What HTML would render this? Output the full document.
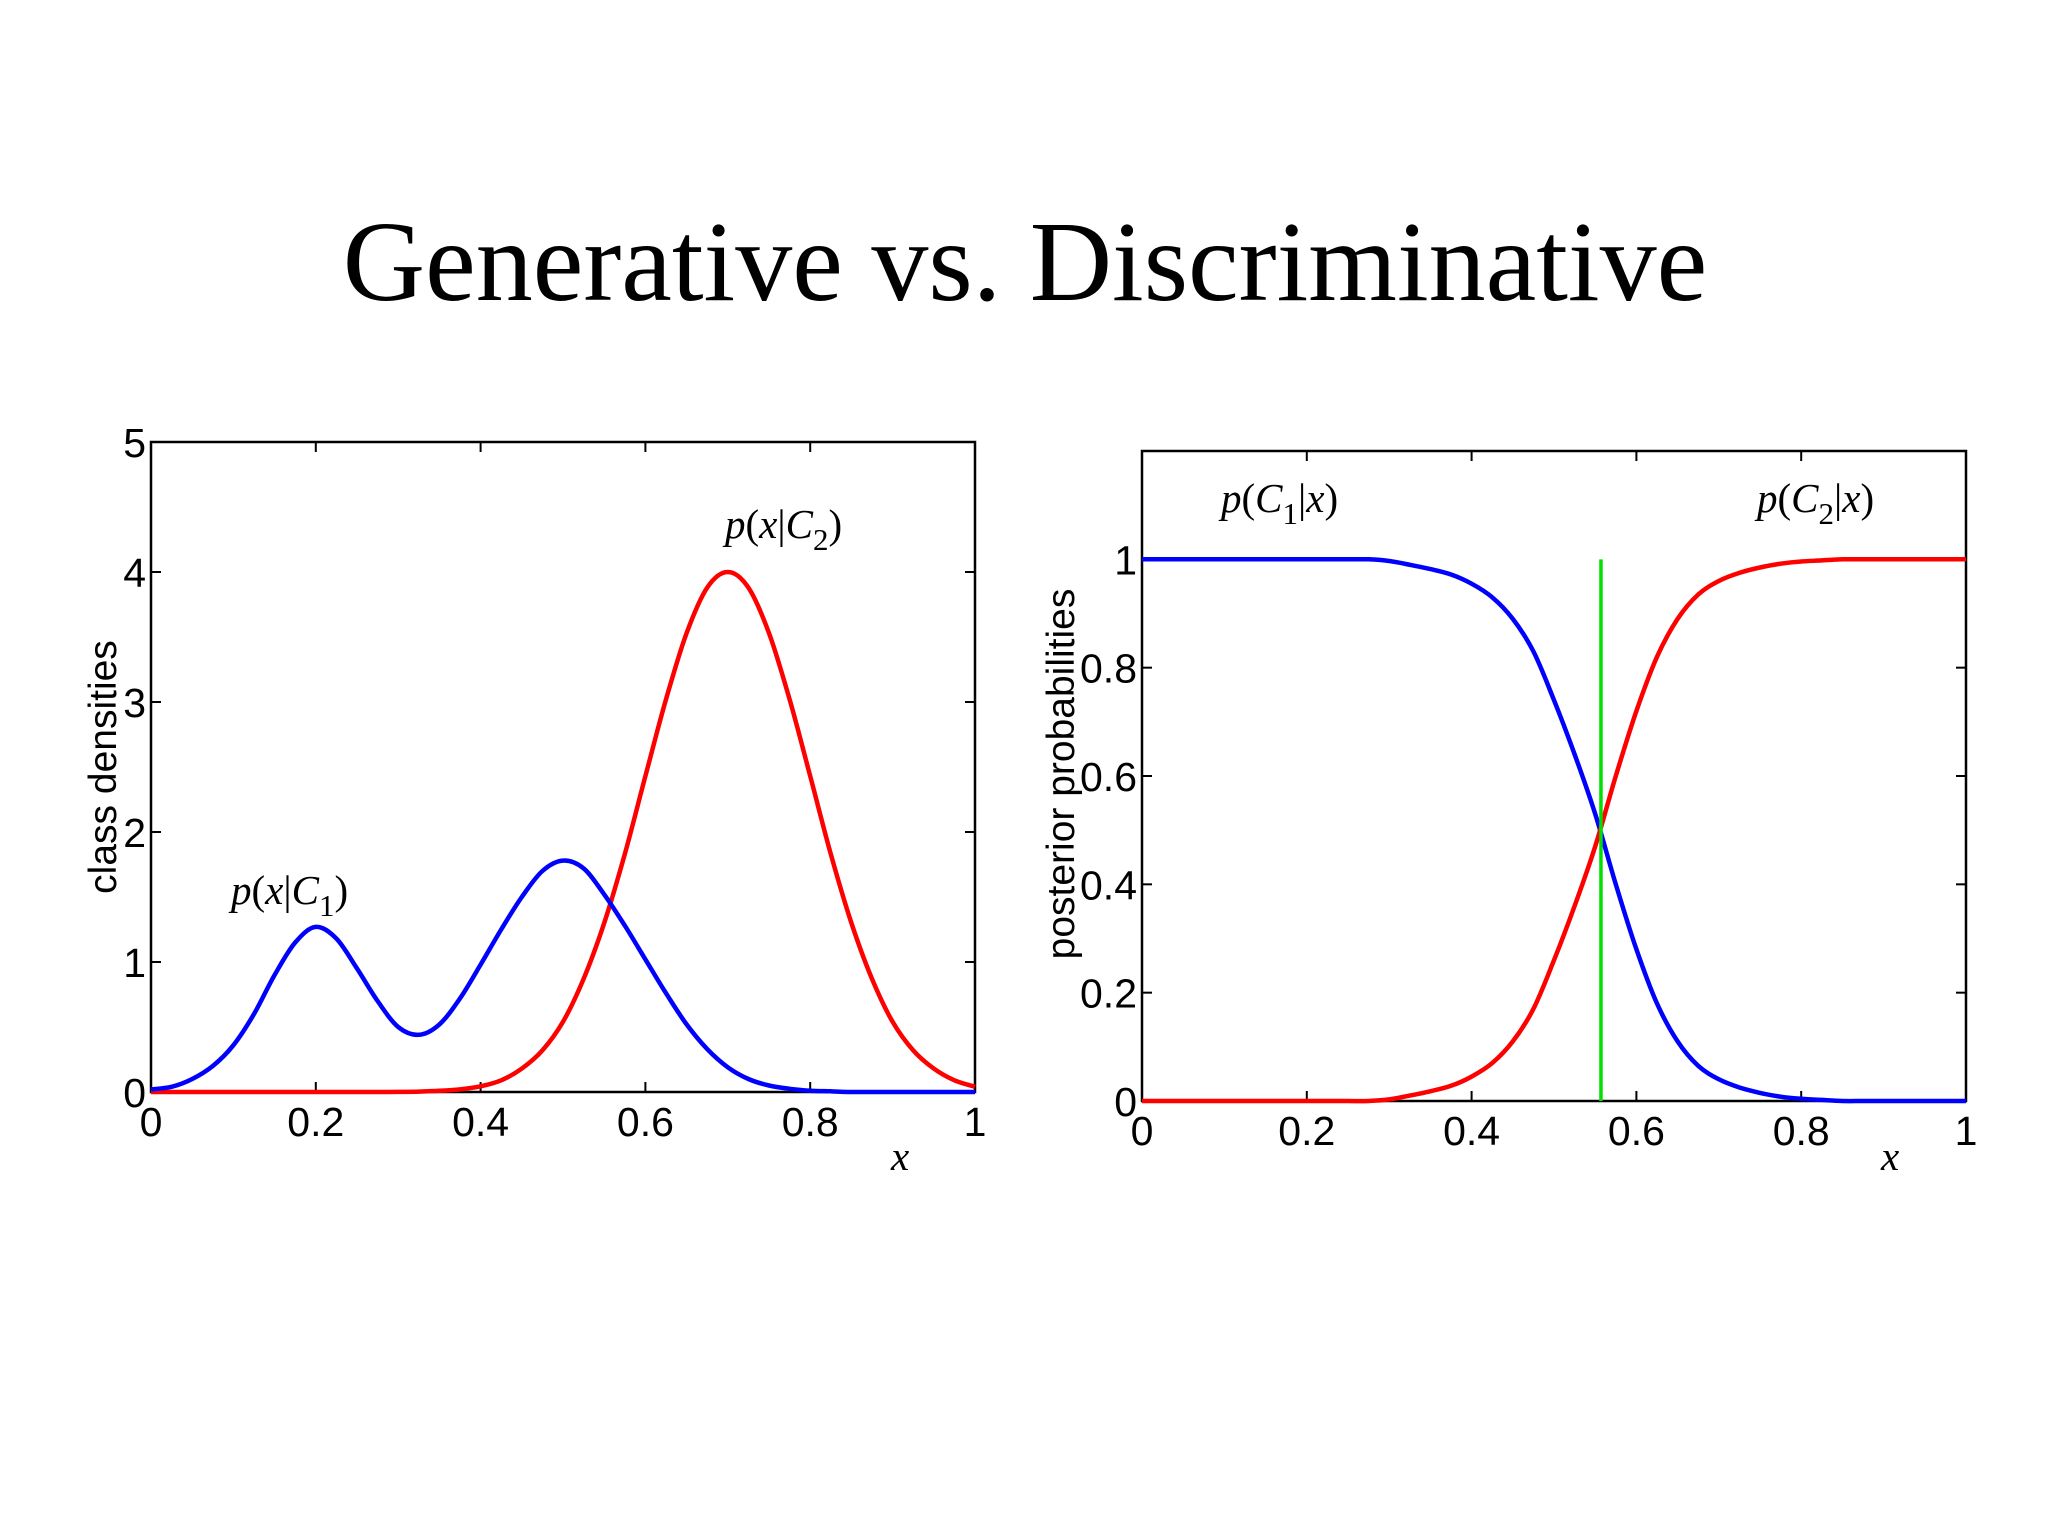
<!DOCTYPE html>
<html><head><meta charset="utf-8"><style>
html,body{margin:0;padding:0;background:#fff;}
svg{display:block;}
.tk{font-family:"Liberation Sans",sans-serif;font-size:41px;fill:#000;}
.lab{font-family:"Liberation Sans",sans-serif;font-size:39px;fill:#000;}
.mi{font-family:"Liberation Serif",serif;font-size:41px;fill:#000;}
</style></head><body>
<svg id="fig" width="2048" height="1539" viewBox="0 0 2048 1539" xmlns="http://www.w3.org/2000/svg">
<text x="1025" y="300" text-anchor="middle" font-family="Liberation Serif, serif" font-size="114">Generative vs. Discriminative</text>
<g id="left"></g>
<g id="right"></g>
<text class="lab" transform="translate(116,767) rotate(-90)" text-anchor="middle">class densities</text>
<text class="lab" transform="translate(1074,774) rotate(-90)" text-anchor="middle">posterior probabilities</text>
<text class="mi" x="891" y="1170" font-style="italic">x</text>
<text class="mi" x="1881" y="1170" font-style="italic">x</text>
<text class="mi" x="725" y="538"><tspan font-style="italic">p</tspan>(<tspan font-style="italic">x</tspan>|<tspan font-style="italic">C</tspan><tspan dy="12" font-size="31">2</tspan><tspan dy="-12">)</tspan></text>
<text class="mi" x="231" y="904"><tspan font-style="italic">p</tspan>(<tspan font-style="italic">x</tspan>|<tspan font-style="italic">C</tspan><tspan dy="12" font-size="31">1</tspan><tspan dy="-12">)</tspan></text>
<text class="mi" x="1221" y="512"><tspan font-style="italic">p</tspan>(<tspan font-style="italic">C</tspan><tspan dy="12" font-size="31">1</tspan><tspan dy="-12">|</tspan><tspan font-style="italic">x</tspan>)</text>
<text class="mi" x="1757" y="512"><tspan font-style="italic">p</tspan>(<tspan font-style="italic">C</tspan><tspan dy="12" font-size="31">2</tspan><tspan dy="-12">|</tspan><tspan font-style="italic">x</tspan>)</text>
</svg>
<script>
const xs = [0,0.025,0.05,0.075,0.1,0.125,0.15,0.175,0.2,0.225,0.25,0.275,0.3,0.325,0.35,0.375,0.4,0.425,0.45,0.475,0.5,0.525,0.55,0.575,0.6,0.625,0.65,0.675,0.7,0.725,0.75,0.775,0.8,0.825,0.85,0.875,0.9,0.925,0.95,0.975,1];
const densityC1 = [0.02,0.04,0.1,0.2,0.36,0.6,0.9,1.15,1.27,1.18,0.95,0.7,0.5,0.44,0.52,0.72,0.98,1.25,1.5,1.7,1.78,1.72,1.52,1.28,1.02,0.76,0.52,0.33,0.19,0.1,0.05,0.025,0.01,0.005,0,0,0,0,0,0,0];
const densityC2 = [0,0,0,0,0,0,0,0,0,0,0,0,0.001,0.003,0.009,0.02,0.044,0.09,0.18,0.32,0.54,0.87,1.3,1.83,2.43,3.02,3.53,3.88,4,3.88,3.53,3.02,2.43,1.83,1.3,0.87,0.54,0.32,0.18,0.09,0.04];
const postC2 = [0,0,0,0,0,0,0,0,0,0,0,0,0.003,0.01,0.018,0.028,0.045,0.07,0.11,0.17,0.26,0.36,0.47,0.6,0.72,0.82,0.89,0.935,0.96,0.975,0.985,0.992,0.996,0.998,1,1,1,1,1,1,1];
const postC1 = [1,1,1,1,1,1,1,1,1,1,1,1,0.997,0.99,0.982,0.972,0.955,0.93,0.89,0.83,0.74,0.64,0.53,0.4,0.28,0.18,0.11,0.065,0.04,0.025,0.015,0.008,0.004,0.002,0,0,0,0,0,0,0];
const boundaryX = [0.557];
const leftXTicks = [0,0.2,0.4,0.6,0.8,1];
const leftXLabels = ["0","0.2","0.4","0.6","0.8","1"];
const leftYTicks = [0,1,2,3,4,5];
const leftYLabels = ["0","1","2","3","4","5"];
const rightYTicks = [0,0.2,0.4,0.6,0.8,1];
const rightYLabels = ["0","0.2","0.4","0.6","0.8","1"];

const NS = "http://www.w3.org/2000/svg";
function mk(tag, attrs, parent){const e=document.createElementNS(NS,tag);for(const k in attrs)e.setAttribute(k,attrs[k]);parent.appendChild(e);return e;}
function smoothPath(pts){
  let d="M"+pts[0][0].toFixed(1)+","+pts[0][1].toFixed(1);
  for(let i=0;i<pts.length-1;i++){
    const p0=pts[Math.max(0,i-1)],p1=pts[i],p2=pts[i+1],p3=pts[Math.min(pts.length-1,i+2)];
    const c1=[p1[0]+(p2[0]-p0[0])/6,p1[1]+(p2[1]-p0[1])/6];
    const c2=[p2[0]-(p3[0]-p1[0])/6,p2[1]-(p3[1]-p1[1])/6];
    d+="C"+c1.map(v=>v.toFixed(1)).join(",")+" "+c2.map(v=>v.toFixed(1)).join(",")+" "+p2[0].toFixed(1)+","+p2[1].toFixed(1);
  }
  return d;
}
function chart(g, box, ymax, yTicks, yLabels, series, boundary){
  const sx=v=>box.x0+(box.x1-box.x0)*v;
  const sy=v=>box.y0-(box.y0-box.yTop)*(v/ymax);
  const frame=mk("rect",{x:box.x0,y:box.yTop,width:box.x1-box.x0,height:box.y0-box.yTop,fill:"none",stroke:"#000","stroke-width":2.5},g);
  
  
  leftXTicks.forEach((t,i)=>{
    const x=sx(t);
    mk("line",{x1:x,y1:box.y0,x2:x,y2:box.y0-10,stroke:"#000","stroke-width":2},g);
    mk("line",{x1:x,y1:box.yTop,x2:x,y2:box.yTop+10,stroke:"#000","stroke-width":2},g);
    const tx=mk("text",{x:x,y:box.y0+44,"text-anchor":"middle",class:"tk"},g);
    tx.textContent=leftXLabels[i];
    
    
  });
  yTicks.forEach((t,i)=>{
    const y=sy(t);
    mk("line",{x1:box.x0,y1:y,x2:box.x0+10,y2:y,stroke:"#000","stroke-width":2},g);
    mk("line",{x1:box.x1,y1:y,x2:box.x1-10,y2:y,stroke:"#000","stroke-width":2},g);
    const ty=mk("text",{x:box.x0-5,y:y+15,"text-anchor":"end",class:"tk"},g);
    ty.textContent=yLabels[i];
    
    
  });
  series.forEach(s=>{
    const pts=xs.map((x,i)=>[sx(x),sy(s.vals[i])]);
    const p=mk("path",{d:smoothPath(pts),fill:"none",stroke:s.color,"stroke-width":4.5,"stroke-linejoin":"round"},g);
    
    
  });
  if(boundary){
    const bl=mk("line",{x1:sx(boundary[0]),y1:sy(0),x2:sx(boundary[0]),y2:sy(1),stroke:"#00e000","stroke-width":3.5},g);
    
    
  }
}
chart(document.getElementById("left"),{x0:151,x1:975,y0:1092,yTop:442},5,leftYTicks,leftYLabels,
  [{vals:densityC2,color:"#ff0000",name:"density-c2-line"},{vals:densityC1,color:"#0000ff",name:"density-c1-line"}],null);
chart(document.getElementById("right"),{x0:1142,x1:1966,y0:1101,yTop:451},1.2,rightYTicks,rightYLabels,
  [{vals:postC1,color:"#0000ff",name:"posterior-c1-line"},{vals:postC2,color:"#ff0000",name:"posterior-c2-line"}],boundaryX);
</script>
</body></html>
